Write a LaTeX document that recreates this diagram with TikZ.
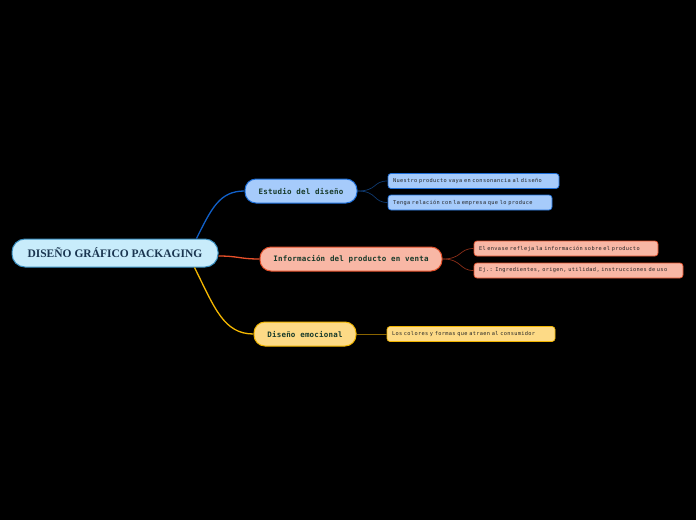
\documentclass[tikz,border=0pt]{standalone}
\usepackage{fontspec}
\setmainfont{Liberation Serif}
\newfontfamily\monof[LetterSpace=6,WordSpace=1.8]{DejaVu Sans Mono}
\newfontfamily\monom[LetterSpace=3]{DejaVu Sans Mono}
\definecolor{rootf}{HTML}{C8ECFB}\definecolor{rootd}{HTML}{3A8FC0}
\definecolor{bf}{HTML}{A6CBFB}\definecolor{bd}{HTML}{1E6FD9}\definecolor{be}{HTML}{1160C8}\definecolor{bl}{HTML}{0F3A70}
\definecolor{of}{HTML}{F8B7A5}\definecolor{od}{HTML}{E2502B}\definecolor{oe}{HTML}{E8502A}\definecolor{ol}{HTML}{8A2E18}
\definecolor{yf}{HTML}{FDDA86}\definecolor{yd}{HTML}{F0B400}\definecolor{ye}{HTML}{F5B800}\definecolor{yl}{HTML}{8A6400}
\definecolor{rtext}{HTML}{1A3550}\definecolor{gtext}{HTML}{173A2A}
\begin{document}
\begin{tikzpicture}[x=1pt,y=-1pt,
 box/.style={rounded corners=#1, line width=1pt, inner sep=0pt, text=gtext},
 mainb/.style={box=11pt, minimum height=24pt, font=\monom\bfseries\fontsize{7.5}{8}\selectfont},
 leafb/.style={box=3pt, line width=0.7pt, minimum height=15pt, inner xsep=5pt, text width=#1-10pt, align=left, font=\monof\fontsize{5.3}{6}\selectfont, text=black!85}]
\fill[black] (0,0) rectangle (696,520);
\useasboundingbox (0,0) rectangle (696,520);
\node[box=13pt, fill=rootf, draw=rootd, minimum width=206pt, minimum height=28pt, text=rtext, font=\bfseries\fontsize{11.5}{12}\selectfont] (root) at (115,253) {DISEÑO GRÁFICO PACKAGING};
\node[mainb, fill=bf, draw=bd, minimum width=112pt] (est) at (301,191) {Estudio del diseño};
\node[mainb, fill=of, draw=od, minimum width=182pt] (inf) at (351,259) {Información del producto en venta};
\node[mainb, fill=yf, draw=yd, minimum width=102pt] (emo) at (305,334) {Diseño emocional};
\node[leafb=171pt, fill=bf, draw=bd] (l1) at (473.5,181) {Nuestro producto vaya en consonancia al diseño};
\node[leafb=164pt, fill=bf, draw=bd] (l2) at (470,202.5) {Tenga relación con la empresa que lo produce};
\node[leafb=184pt, fill=of, draw=od] (l3) at (566,248.5) {El envase refleja la información sobre el producto};
\node[leafb=209pt, fill=of, draw=od] (l4) at (578.5,270.5) {Ej.: Ingredientes, origen, utilidad, instrucciones de uso};
\node[leafb=168pt, fill=yf, draw=yd] (l5) at (471,334) {Los colores y formas que atraen al consumidor};
\draw[be, line width=1.3pt] (root.north east) ++(-22,0) .. controls +(15,-30) and +(-25,0) .. (est.west);
\draw[oe, line width=1.3pt] (root.east) ++(0,3) .. controls +(20,0) and +(-20,0) .. (inf.west);
\draw[ye, line width=1.3pt] (root.south east) ++(-24,0) .. controls +(20,40) and +(-30,0) .. (emo.west);
\draw[bl, line width=0.7pt] (est.east) .. controls +(20,0) and +(-15,0) .. (l1.west);
\draw[bl, line width=0.7pt] (est.east) .. controls +(20,0) and +(-15,0) .. (l2.west);
\draw[ol, line width=0.7pt] (inf.east) .. controls +(20,0) and +(-15,0) .. (l3.west);
\draw[ol, line width=0.7pt] (inf.east) .. controls +(20,0) and +(-15,0) .. (l4.west);
\draw[yl, line width=0.7pt] (emo.east) -- (l5.west);
\end{tikzpicture}
\end{document}
